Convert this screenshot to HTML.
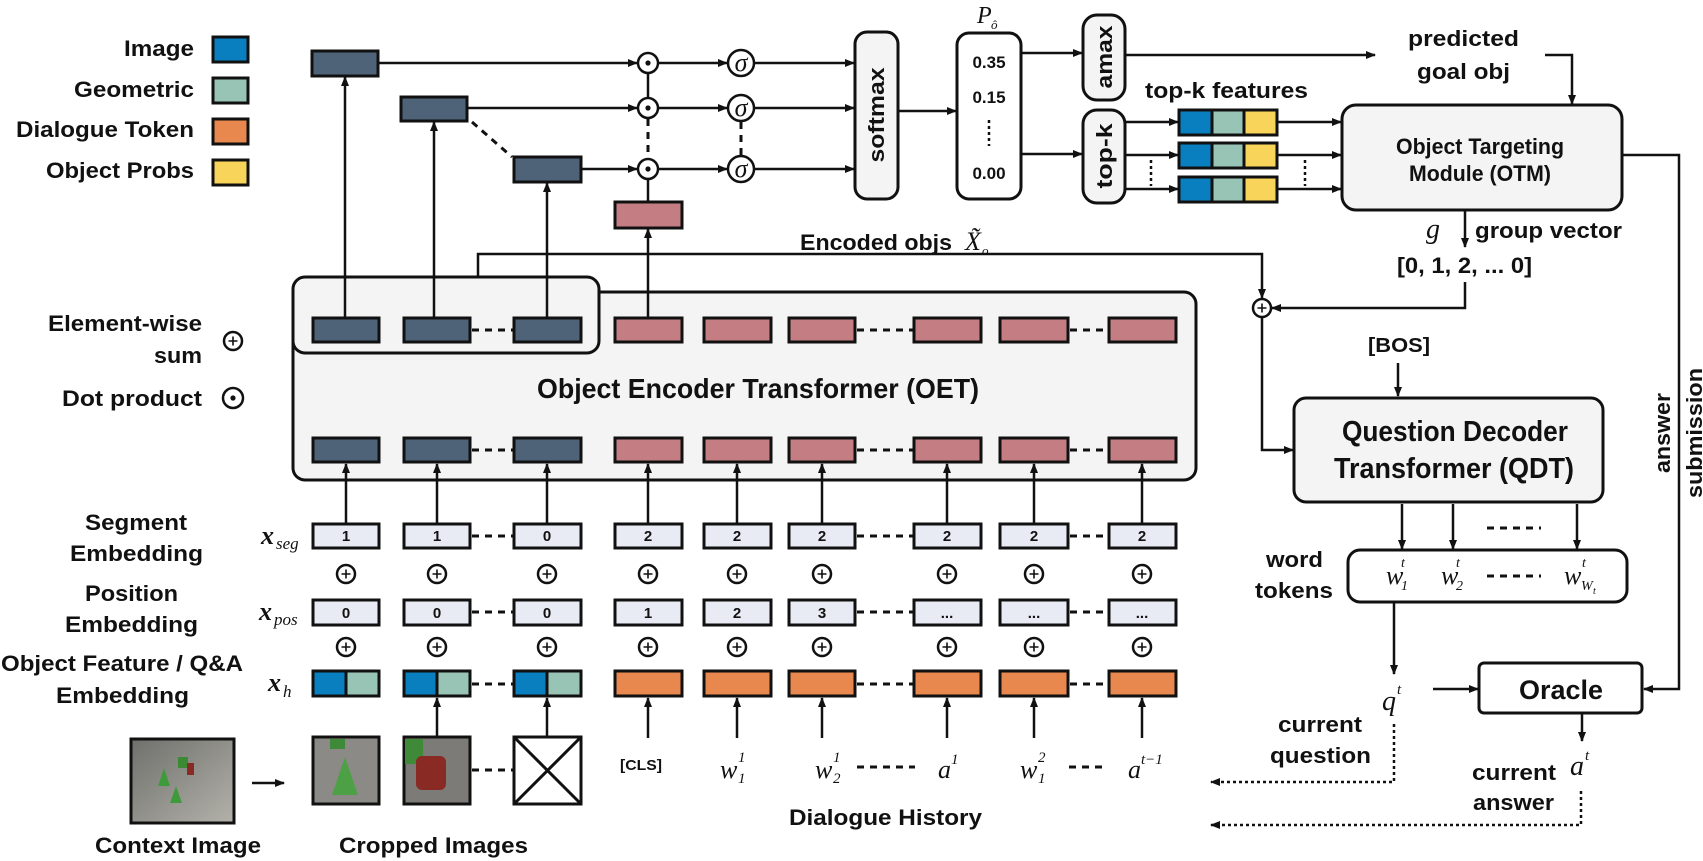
<!DOCTYPE html>
<html><head><meta charset="utf-8"><style>
body{margin:0;background:#fff}
svg{display:block}
text{font-family:"Liberation Sans",sans-serif;font-weight:bold;fill:#111}
.m,.m text{font-family:"Liberation Serif",serif;font-style:italic;font-weight:normal}
.u{font-style:normal}
.b{stroke:#111;stroke-width:3}
.l{stroke:#111;stroke-width:2.5;fill:none}
.d{stroke:#111;stroke-width:3;fill:none;stroke-dasharray:7 6}
.o{stroke:#111;stroke-width:2.5;fill:none;stroke-dasharray:3 3}
</style></head><body>
<svg width="1703" height="861" viewBox="0 0 1703 861" xmlns="http://www.w3.org/2000/svg">
<defs>
<marker id="a" markerWidth="10" markerHeight="8" refX="9" refY="4" orient="auto" markerUnits="userSpaceOnUse"><path d="M0,0 L10,4 L0,8 z" fill="#111"/></marker>
<g id="plus"><circle r="9" fill="#fff" stroke="#111" stroke-width="2.5"/><path d="M-4.5,0H4.5M0,-4.5V4.5" stroke="#111" stroke-width="1.6"/></g>
<g id="dot"><circle r="10" fill="#fff" stroke="#111" stroke-width="2.5"/><circle r="2.6" fill="#111"/></g>
<linearGradient id="gi" x1="0" y1="0" x2="1" y2="1"><stop offset="0" stop-color="#6f706c"/><stop offset="1" stop-color="#b3b1aa"/></linearGradient>
</defs>

<!-- legend -->
<g font-size="22" text-anchor="end" lengthAdjust="spacingAndGlyphs">
<text x="194" y="56" textLength="70" lengthAdjust="spacingAndGlyphs">Image</text>
<text x="194" y="97" textLength="120" lengthAdjust="spacingAndGlyphs">Geometric</text>
<text x="194" y="137" textLength="178" lengthAdjust="spacingAndGlyphs">Dialogue Token</text>
<text x="194" y="178" textLength="148" lengthAdjust="spacingAndGlyphs">Object Probs</text>
</g>
<rect x="213" y="37" width="35" height="25" fill="#0a7fbf" class="b"/>
<rect x="213" y="78" width="35" height="25" fill="#97c4b4" class="b"/>
<rect x="213" y="119" width="35" height="25" fill="#e8884f" class="b"/>
<rect x="213" y="160" width="35" height="25" fill="#f9d45a" class="b"/>

<g font-size="22">
<text x="48" y="331" textLength="154" lengthAdjust="spacingAndGlyphs">Element-wise</text>
<text x="154" y="363" textLength="48" lengthAdjust="spacingAndGlyphs">sum</text>
<text x="62" y="406" textLength="140" lengthAdjust="spacingAndGlyphs">Dot product</text>
<text x="85" y="530" textLength="102" lengthAdjust="spacingAndGlyphs">Segment</text>
<text x="70" y="561" textLength="133" lengthAdjust="spacingAndGlyphs">Embedding</text>
<text x="85" y="601" textLength="93" lengthAdjust="spacingAndGlyphs">Position</text>
<text x="65" y="632" textLength="133" lengthAdjust="spacingAndGlyphs">Embedding</text>
<text x="1" y="671" textLength="242" lengthAdjust="spacingAndGlyphs">Object Feature / Q&amp;A</text>
<text x="56" y="703" textLength="133" lengthAdjust="spacingAndGlyphs">Embedding</text>
</g>
<use href="#plus" x="233" y="341"/>
<use href="#dot" x="233" y="398"/>

<!-- top object boxes -->
<rect x="312" y="51" width="66" height="25" fill="#4f6378" class="b"/>
<rect x="401" y="97" width="66" height="24" fill="#4f6378" class="b"/>
<rect x="514" y="157" width="67" height="25" fill="#4f6378" class="b"/>
<line x1="472" y1="122" x2="512" y2="157" class="d"/>
<line x1="378" y1="63" x2="637" y2="63" class="l" marker-end="url(#a)"/>
<line x1="467" y1="108" x2="637" y2="108" class="l" marker-end="url(#a)"/>
<line x1="581" y1="169" x2="637" y2="169" class="l" marker-end="url(#a)"/>
<line x1="648" y1="73" x2="648" y2="98" class="l"/>
<line x1="648" y1="119" x2="648" y2="158" class="d"/>
<line x1="648" y1="179" x2="648" y2="202" class="l"/>
<use href="#dot" x="648" y="63"/><use href="#dot" x="648" y="108"/><use href="#dot" x="648" y="169"/>
<g>
<line x1="658" y1="63" x2="727" y2="63" class="l" marker-end="url(#a)"/>
<line x1="658" y1="108" x2="727" y2="108" class="l" marker-end="url(#a)"/>
<line x1="658" y1="169" x2="727" y2="169" class="l" marker-end="url(#a)"/>
<line x1="741" y1="122" x2="741" y2="156" class="d"/>
<circle cx="741" cy="63" r="13" fill="#fff" stroke="#111" stroke-width="2.5"/>
<circle cx="741" cy="108" r="13" fill="#fff" stroke="#111" stroke-width="2.5"/>
<circle cx="741" cy="169" r="13" fill="#fff" stroke="#111" stroke-width="2.5"/>
<text class="m" font-size="26" x="741" y="71" text-anchor="middle">σ</text>
<text class="m" font-size="26" x="741" y="116" text-anchor="middle">σ</text>
<text class="m" font-size="26" x="741" y="177" text-anchor="middle">σ</text>
<line x1="754" y1="63" x2="854" y2="63" class="l" marker-end="url(#a)"/>
<line x1="754" y1="108" x2="854" y2="108" class="l" marker-end="url(#a)"/>
<line x1="754" y1="169" x2="854" y2="169" class="l" marker-end="url(#a)"/>
</g>
<rect x="615" y="202" width="67" height="26" fill="#c47d82" class="b"/>

<!-- softmax / P -->
<rect x="855" y="32" width="43" height="167" rx="12" fill="#f4f4f4" class="b"/>
<text x="0" y="0" font-size="22" text-anchor="middle" textLength="95" lengthAdjust="spacingAndGlyphs" transform="translate(884,115) rotate(-90)">softmax</text>
<line x1="898" y1="111" x2="956" y2="111" class="l" marker-end="url(#a)"/>
<rect x="957" y="33" width="64" height="166" rx="12" fill="#fff" class="b"/>
<text class="m" font-size="24" x="977" y="23">P</text><text class="m" font-size="13" x="991" y="29">ô</text>
<g font-size="17" text-anchor="middle">
<text x="989" y="68">0.35</text><text x="989" y="103">0.15</text><text x="989" y="179">0.00</text>
</g>
<line x1="989" y1="120" x2="989" y2="146" class="o"/>
<line x1="1021" y1="53" x2="1082" y2="53" class="l" marker-end="url(#a)"/>
<line x1="1021" y1="154" x2="1082" y2="154" class="l" marker-end="url(#a)"/>
<rect x="1083" y="15" width="42" height="85" rx="14" fill="#f4f4f4" class="b"/>
<text font-size="22" text-anchor="middle" textLength="63" lengthAdjust="spacingAndGlyphs" transform="translate(1112,57) rotate(-90)">amax</text>
<rect x="1083" y="110" width="42" height="93" rx="14" fill="#f4f4f4" class="b"/>
<text font-size="22" text-anchor="middle" textLength="65" lengthAdjust="spacingAndGlyphs" transform="translate(1112,156) rotate(-90)">top-k</text>
<line x1="1125" y1="55" x2="1375" y2="55" class="l" marker-end="url(#a)"/>
<text x="1408" y="46" font-size="22" textLength="111" lengthAdjust="spacingAndGlyphs">predicted</text>
<text x="1417" y="79" font-size="22" textLength="93" lengthAdjust="spacingAndGlyphs">goal obj</text>
<polyline points="1545,55 1572,55 1572,104" class="l" marker-end="url(#a)"/>
<text x="1145" y="98" font-size="22" textLength="163" lengthAdjust="spacingAndGlyphs">top-k features</text>
<g>
<line x1="1125" y1="122" x2="1178" y2="122" class="l" marker-end="url(#a)"/>
<line x1="1125" y1="155" x2="1178" y2="155" class="l" marker-end="url(#a)"/>
<line x1="1125" y1="189" x2="1178" y2="189" class="l" marker-end="url(#a)"/>
<line x1="1151" y1="160" x2="1151" y2="186" class="o"/>
<line x1="1305" y1="160" x2="1305" y2="186" class="o"/>
<line x1="1277" y1="122" x2="1341" y2="122" class="l" marker-end="url(#a)"/>
<line x1="1277" y1="155" x2="1341" y2="155" class="l" marker-end="url(#a)"/>
<line x1="1277" y1="189" x2="1341" y2="189" class="l" marker-end="url(#a)"/>
</g>
<g class="b">
<rect x="1179" y="110" width="33" height="25" fill="#0a7fbf"/><rect x="1212" y="110" width="32" height="25" fill="#97c4b4"/><rect x="1244" y="110" width="33" height="25" fill="#f9d45a"/>
<rect x="1179" y="143" width="33" height="25" fill="#0a7fbf"/><rect x="1212" y="143" width="32" height="25" fill="#97c4b4"/><rect x="1244" y="143" width="33" height="25" fill="#f9d45a"/>
<rect x="1179" y="177" width="33" height="25" fill="#0a7fbf"/><rect x="1212" y="177" width="32" height="25" fill="#97c4b4"/><rect x="1244" y="177" width="33" height="25" fill="#f9d45a"/>
</g>
<rect x="1342" y="105" width="280" height="105" rx="14" fill="#f4f4f4" class="b"/>
<text x="1396" y="154" font-size="22" textLength="168" lengthAdjust="spacingAndGlyphs">Object Targeting</text>
<text x="1409" y="181" font-size="22" textLength="142" lengthAdjust="spacingAndGlyphs">Module (OTM)</text>
<polyline points="1622,155 1679,155 1679,689 1644,689" class="l" marker-end="url(#a)"/>
<text font-size="22" text-anchor="middle" textLength="80" lengthAdjust="spacingAndGlyphs" transform="translate(1670,433) rotate(-90)">answer</text>
<text font-size="22" text-anchor="middle" textLength="130" lengthAdjust="spacingAndGlyphs" transform="translate(1702,433) rotate(-90)">submission</text>

<line x1="1465" y1="210" x2="1465" y2="247" class="l" marker-end="url(#a)"/>
<text class="m" font-size="28" x="1426" y="238">g</text>
<text x="1475" y="238" font-size="22" textLength="147" lengthAdjust="spacingAndGlyphs">group vector</text>
<text x="1397" y="273" font-size="22" textLength="135" lengthAdjust="spacingAndGlyphs">[0, 1, 2, ... 0]</text>
<polyline points="1465,282 1465,308 1272,308" class="l" marker-end="url(#a)"/>

<!-- encoded objs -->
<polyline points="478,277 478,254 1262,254 1262,298" class="l" marker-end="url(#a)"/>
<text x="800" y="250" font-size="22" textLength="152" lengthAdjust="spacingAndGlyphs">Encoded objs</text>
<text class="m" font-size="26" x="965" y="250">X̃</text><text class="m" font-size="13" x="982" y="255">o</text>
<use href="#plus" x="1262" y="308"/>
<polyline points="1262,317 1262,450 1293,450" class="l" marker-end="url(#a)"/>

<!-- OET -->
<rect x="293" y="292" width="903" height="188" rx="12" fill="#f4f4f4" class="b"/>
<rect x="293" y="277" width="306" height="76" rx="12" fill="#f4f4f4" class="b"/>
<text x="537" y="398" font-size="28" textLength="442" lengthAdjust="spacingAndGlyphs">Object Encoder Transformer (OET)</text>
<g class="l">
<line x1="345" y1="318" x2="345" y2="77" marker-end="url(#a)"/>
<line x1="434" y1="318" x2="434" y2="122" marker-end="url(#a)"/>
<line x1="547" y1="318" x2="547" y2="183" marker-end="url(#a)"/>
<line x1="648" y1="318" x2="648" y2="229" marker-end="url(#a)"/>
</g>

<g class="b">
<rect x="313" y="318" width="66" height="24" fill="#4f6378"/><rect x="404" y="318" width="66" height="24" fill="#4f6378"/><rect x="514" y="318" width="67" height="24" fill="#4f6378"/>
<rect x="615" y="318" width="67" height="24" fill="#c47d82"/><rect x="704" y="318" width="67" height="24" fill="#c47d82"/><rect x="789" y="318" width="66" height="24" fill="#c47d82"/>
<rect x="914" y="318" width="67" height="24" fill="#c47d82"/><rect x="1000" y="318" width="68" height="24" fill="#c47d82"/><rect x="1109" y="318" width="67" height="24" fill="#c47d82"/>
<rect x="313" y="438" width="66" height="24" fill="#4f6378"/><rect x="404" y="438" width="66" height="24" fill="#4f6378"/><rect x="514" y="438" width="67" height="24" fill="#4f6378"/>
<rect x="615" y="438" width="67" height="24" fill="#c47d82"/><rect x="704" y="438" width="67" height="24" fill="#c47d82"/><rect x="789" y="438" width="66" height="24" fill="#c47d82"/>
<rect x="914" y="438" width="67" height="24" fill="#c47d82"/><rect x="1000" y="438" width="68" height="24" fill="#c47d82"/><rect x="1109" y="438" width="67" height="24" fill="#c47d82"/>
</g>
<g class="d">
<path d="M472,330H513M857,330H913M1070,330H1108M472,450H513M857,450H913M1070,450H1108"/>
<path d="M472,536H513M857,536H913M1070,536H1108M472,612H513M857,612H913M1070,612H1108M472,684H513M857,684H913M1070,684H1108"/>
<path d="M472,770H513M857,767H915M1069,767H1105"/>
</g>

<g class="l" marker-end="url(#a)">
<line x1="346" y1="524" x2="346" y2="464"/><line x1="437" y1="524" x2="437" y2="464"/><line x1="547" y1="524" x2="547" y2="464"/>
<line x1="648" y1="524" x2="648" y2="464"/><line x1="737" y1="524" x2="737" y2="464"/><line x1="822" y1="524" x2="822" y2="464"/>
<line x1="947" y1="524" x2="947" y2="464"/><line x1="1034" y1="524" x2="1034" y2="464"/><line x1="1142" y1="524" x2="1142" y2="464"/>
<line x1="437" y1="737" x2="437" y2="698"/><line x1="547" y1="737" x2="547" y2="698"/>
<line x1="648" y1="738" x2="648" y2="698"/><line x1="737" y1="738" x2="737" y2="698"/><line x1="822" y1="738" x2="822" y2="698"/>
<line x1="947" y1="738" x2="947" y2="698"/><line x1="1034" y1="738" x2="1034" y2="698"/><line x1="1142" y1="738" x2="1142" y2="698"/>
</g>

<!-- seg / pos / xh rows -->
<g class="b" fill="#e8ebf4">
<rect x="313" y="524" width="66" height="24"/><rect x="404" y="524" width="66" height="24"/><rect x="514" y="524" width="67" height="24"/>
<rect x="615" y="524" width="67" height="24"/><rect x="704" y="524" width="67" height="24"/><rect x="789" y="524" width="66" height="24"/>
<rect x="914" y="524" width="67" height="24"/><rect x="1000" y="524" width="68" height="24"/><rect x="1109" y="524" width="67" height="24"/>
<rect x="313" y="600" width="66" height="25"/><rect x="404" y="600" width="66" height="25"/><rect x="514" y="600" width="67" height="25"/>
<rect x="615" y="600" width="67" height="25"/><rect x="704" y="600" width="67" height="25"/><rect x="789" y="600" width="66" height="25"/>
<rect x="914" y="600" width="67" height="25"/><rect x="1000" y="600" width="68" height="25"/><rect x="1109" y="600" width="67" height="25"/>
</g>
<g font-size="15" text-anchor="middle">
<text x="346" y="541">1</text><text x="437" y="541">1</text><text x="547" y="541">0</text><text x="648" y="541">2</text><text x="737" y="541">2</text><text x="822" y="541">2</text><text x="947" y="541">2</text><text x="1034" y="541">2</text><text x="1142" y="541">2</text>
<text x="346" y="618">0</text><text x="437" y="618">0</text><text x="547" y="618">0</text><text x="648" y="618">1</text><text x="737" y="618">2</text><text x="822" y="618">3</text><text x="947" y="618">...</text><text x="1034" y="618">...</text><text x="1142" y="618">...</text>
</g>
<g class="b">
<rect x="313" y="671" width="33" height="25" fill="#0a7fbf"/><rect x="346" y="671" width="33" height="25" fill="#97c4b4"/>
<rect x="404" y="671" width="33" height="25" fill="#0a7fbf"/><rect x="437" y="671" width="33" height="25" fill="#97c4b4"/>
<rect x="514" y="671" width="33" height="25" fill="#0a7fbf"/><rect x="547" y="671" width="34" height="25" fill="#97c4b4"/>
<rect x="615" y="671" width="67" height="25" fill="#e8884f"/><rect x="704" y="671" width="67" height="25" fill="#e8884f"/><rect x="789" y="671" width="66" height="25" fill="#e8884f"/>
<rect x="914" y="671" width="67" height="25" fill="#e8884f"/><rect x="1000" y="671" width="68" height="25" fill="#e8884f"/><rect x="1109" y="671" width="67" height="25" fill="#e8884f"/>
</g>
<g>
<use href="#plus" x="346" y="574"/><use href="#plus" x="437" y="574"/><use href="#plus" x="547" y="574"/><use href="#plus" x="648" y="574"/><use href="#plus" x="737" y="574"/><use href="#plus" x="822" y="574"/><use href="#plus" x="947" y="574"/><use href="#plus" x="1034" y="574"/><use href="#plus" x="1142" y="574"/>
<use href="#plus" x="346" y="647"/><use href="#plus" x="437" y="647"/><use href="#plus" x="547" y="647"/><use href="#plus" x="648" y="647"/><use href="#plus" x="737" y="647"/><use href="#plus" x="822" y="647"/><use href="#plus" x="947" y="647"/><use href="#plus" x="1034" y="647"/><use href="#plus" x="1142" y="647"/>
</g>
<g class="m">
<text font-size="26" x="261" y="544" style="font-weight:bold">x</text><text class="u" font-size="17" x="276" y="549">seg</text>
<text font-size="26" x="259" y="620" style="font-weight:bold">x</text><text class="u" font-size="17" x="274" y="625">pos</text>
<text font-size="26" x="268" y="691" style="font-weight:bold">x</text><text font-size="17" x="283" y="697">h</text>
</g>

<!-- images -->
<rect x="131" y="739" width="103" height="84" fill="url(#gi)" class="b"/>
<rect x="178" y="757" width="10" height="11" fill="#3d8a35"/><rect x="187" y="763" width="7" height="12" fill="#8a2a25"/>
<path d="M158,786 L164,768 L170,786Z M170,803 L176,786 L182,803Z" fill="#3e9a3a"/>
<line x1="252" y1="783" x2="284" y2="783" class="l" marker-end="url(#a)"/>
<rect x="313" y="737" width="66" height="67" fill="#8b8a86" class="b"/>
<path d="M332,795 L345,757 L358,795Z" fill="#4ea046"/><rect x="330" y="739" width="15" height="10" fill="#3e8a38"/>
<rect x="404" y="737" width="66" height="67" fill="#7d7b77" class="b"/>
<rect x="405" y="739" width="18" height="25" fill="#3e8a38"/><rect x="416" y="756" width="30" height="34" rx="6" fill="#8a2a25"/>
<rect x="514" y="737" width="67" height="67" fill="#fff" class="b"/>
<path d="M514,737L581,804M581,737L514,804" class="b"/>
<text x="95" y="853" font-size="22" textLength="166" lengthAdjust="spacingAndGlyphs">Context Image</text>
<text x="339" y="853" font-size="22" textLength="189" lengthAdjust="spacingAndGlyphs">Cropped Images</text>
<text x="620" y="770" font-size="15" textLength="42" lengthAdjust="spacingAndGlyphs">[CLS]</text>
<g class="m">
<text font-size="26" x="720" y="778">w</text><text font-size="26" x="815" y="778">w</text><text font-size="26" x="938" y="778">a</text><text font-size="26" x="1020" y="778">w</text><text font-size="26" x="1128" y="778">a</text>
<text class="u" font-size="15" x="738" y="762">1</text><text class="u" font-size="15" x="738" y="783">1</text>
<text class="u" font-size="15" x="833" y="762">1</text><text class="u" font-size="15" x="833" y="783">2</text>
<text class="u" font-size="15" x="951" y="764">1</text>
<text class="u" font-size="15" x="1038" y="762">2</text><text class="u" font-size="15" x="1038" y="783">1</text>
<text font-size="15" x="1141" y="764">t−1</text>
</g>
<text x="789" y="825" font-size="22" textLength="193" lengthAdjust="spacingAndGlyphs">Dialogue History</text>

<!-- QDT -->
<text x="1368" y="352" font-size="20" textLength="62" lengthAdjust="spacingAndGlyphs">[BOS]</text>
<line x1="1398" y1="363" x2="1398" y2="396" class="l" marker-end="url(#a)"/>
<rect x="1294" y="398" width="309" height="104" rx="12" fill="#f4f4f4" class="b"/>
<text x="1342" y="441" font-size="29" textLength="226" lengthAdjust="spacingAndGlyphs">Question Decoder</text>
<text x="1334" y="478" font-size="29" textLength="240" lengthAdjust="spacingAndGlyphs">Transformer (QDT)</text>
<g class="l" marker-end="url(#a)">
<line x1="1402" y1="504" x2="1402" y2="549"/><line x1="1453" y1="504" x2="1453" y2="549"/><line x1="1577" y1="504" x2="1577" y2="549"/>
</g>
<line x1="1487" y1="528" x2="1541" y2="528" class="d"/>
<rect x="1348" y="550" width="279" height="52" rx="12" fill="#fff" class="b"/>
<line x1="1487" y1="576" x2="1541" y2="576" class="d"/>
<g class="m">
<text font-size="26" x="1386" y="584">w</text><text font-size="26" x="1441" y="584">w</text><text font-size="26" x="1564" y="584">w</text>
<text font-size="14" x="1401" y="567">t</text><text class="u" font-size="14" x="1401" y="590">1</text>
<text font-size="14" x="1456" y="567">t</text><text class="u" font-size="14" x="1456" y="590">2</text>
<text font-size="14" x="1582" y="567">t</text><text font-size="14" x="1581" y="590">W</text><text font-size="10" x="1593" y="594">t</text>
</g>
<text x="1266" y="567" font-size="22" textLength="57" lengthAdjust="spacingAndGlyphs">word</text>
<text x="1255" y="598" font-size="22" textLength="78" lengthAdjust="spacingAndGlyphs">tokens</text>
<line x1="1394" y1="602" x2="1394" y2="674" class="l" marker-end="url(#a)"/>
<g class="m"><text font-size="28" x="1382" y="710">q</text><text font-size="15" x="1397" y="694">t</text></g>
<line x1="1433" y1="689" x2="1478" y2="689" class="l" marker-end="url(#a)"/>
<rect x="1479" y="663" width="163" height="50" rx="5" fill="#fff" class="b"/>
<text x="1519" y="699" font-size="27" textLength="84" lengthAdjust="spacingAndGlyphs">Oracle</text>
<line x1="1582" y1="713" x2="1582" y2="741" class="l" marker-end="url(#a)"/>
<g class="m"><text font-size="28" x="1570" y="775">a</text><text font-size="15" x="1585" y="760">t</text></g>
<text x="1278" y="732" font-size="22" textLength="84" lengthAdjust="spacingAndGlyphs">current</text>
<text x="1270" y="763" font-size="22" textLength="101" lengthAdjust="spacingAndGlyphs">question</text>
<text x="1472" y="780" font-size="22" textLength="84" lengthAdjust="spacingAndGlyphs">current</text>
<text x="1473" y="810" font-size="22" textLength="81" lengthAdjust="spacingAndGlyphs">answer</text>
<polyline points="1394,724 1394,782 1211,782" class="o" marker-end="url(#a)"/>
<polyline points="1581,791 1581,825 1211,825" class="o" marker-end="url(#a)"/>
</svg>
</body></html>
